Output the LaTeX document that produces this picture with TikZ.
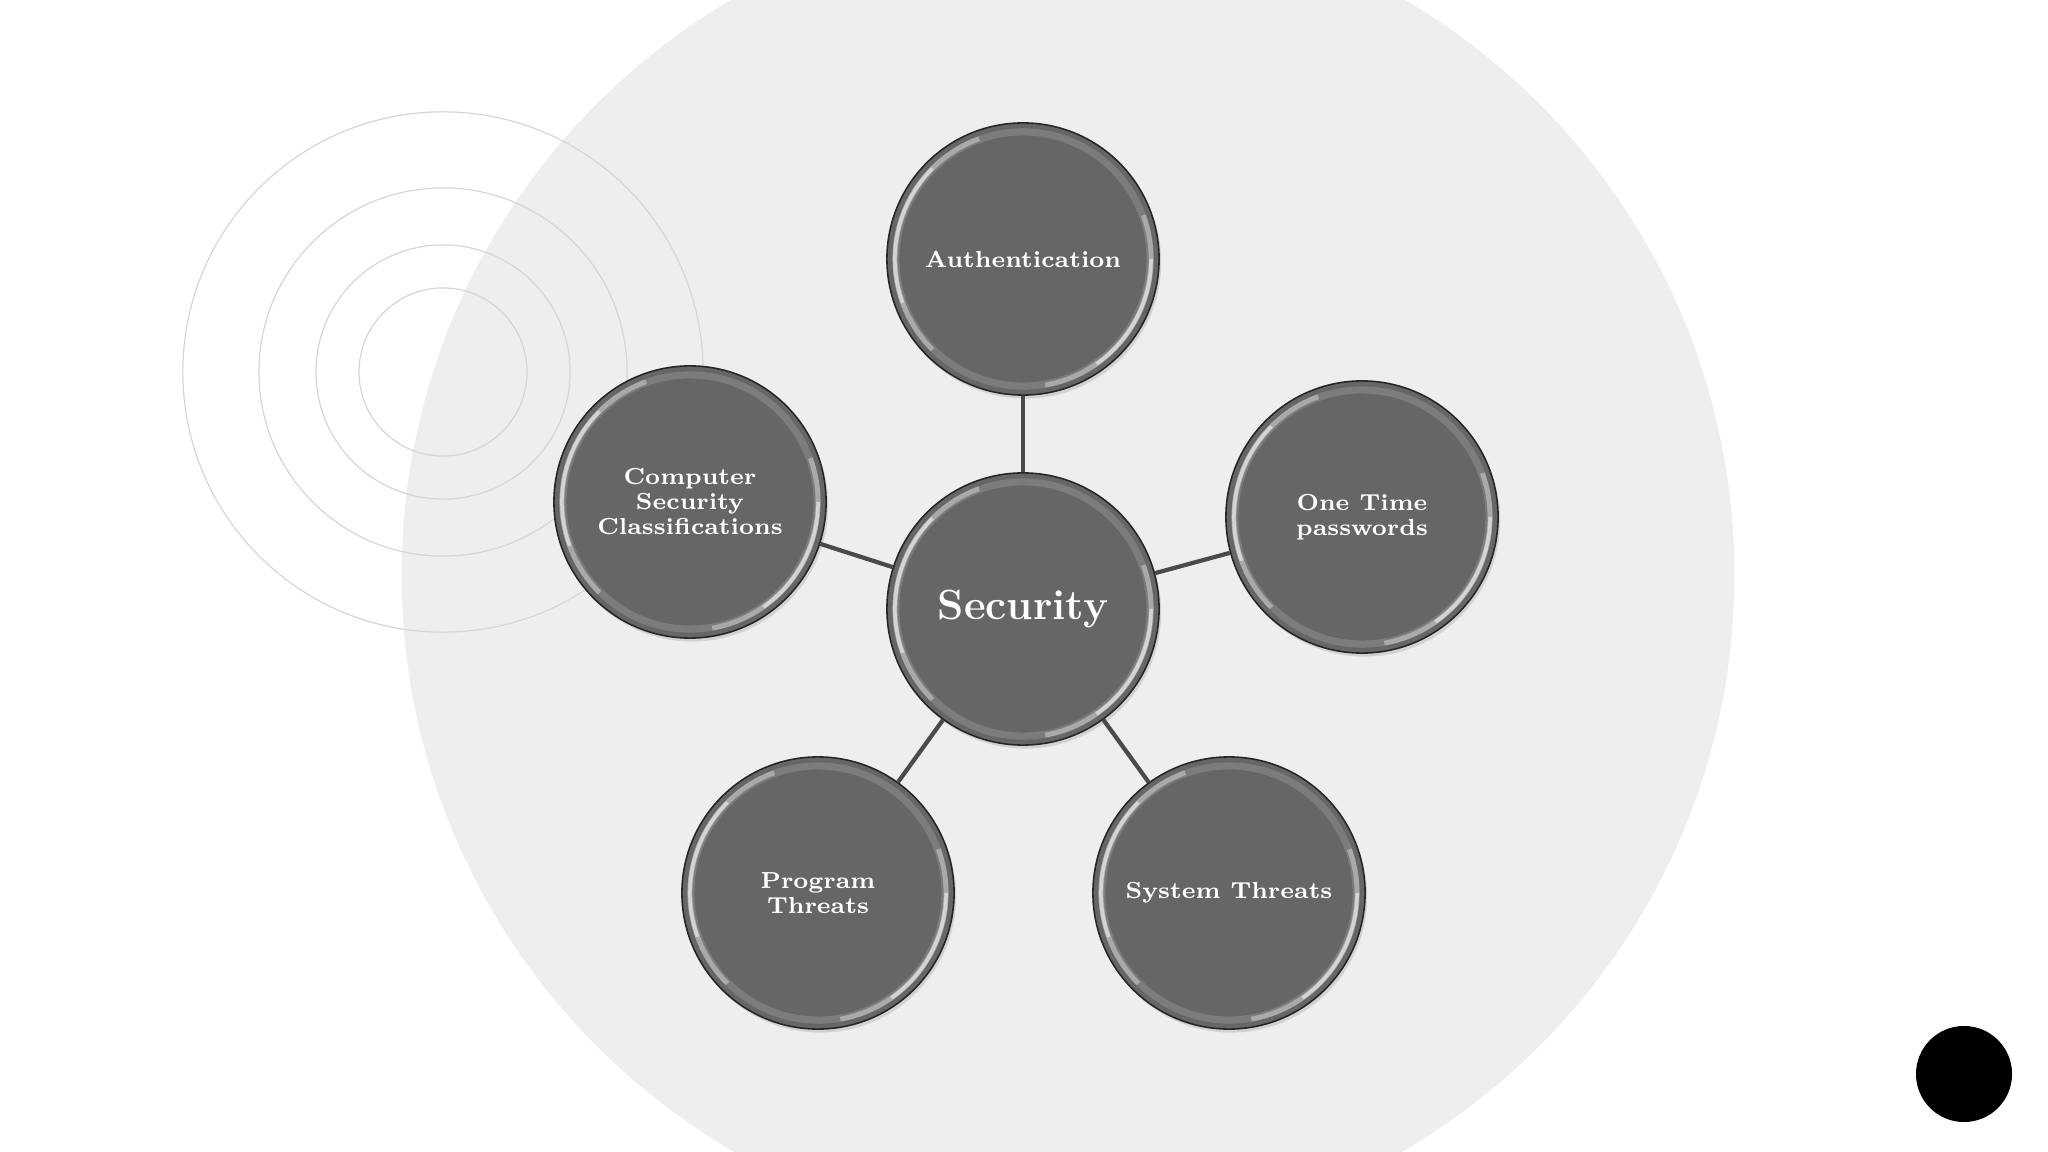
\documentclass[tikz,border=0pt]{standalone}
\usetikzlibrary{shadows}
\definecolor{backgray}{HTML}{EEEEEE}
\definecolor{ringgray}{HTML}{D6D6D6}
\definecolor{ballgray}{HTML}{666666}
\definecolor{linkgray}{HTML}{4A4A4A}
\begin{document}
\begin{tikzpicture}[x=0.01cm, y=-0.01cm,
  topic/.style={circle, draw=black!85, line width=0.45pt, fill=ballgray,
    minimum size=2.72cm, inner sep=0pt, align=center, text=white,
    font=\bfseries\fontsize{6.6}{7.1}\selectfont,
    drop shadow={shadow xshift=0.6pt, shadow yshift=-1pt, opacity=0.25},
    path picture={
      \draw[white, opacity=0.15, line width=2pt] (path picture bounding box.center) circle[radius=1.27cm];
      \draw[white, opacity=0.35, line width=1.4pt] (path picture bounding box.center) ++(110:1.28cm) arc[start angle=110, end angle=225, radius=1.28cm];
      \draw[white, opacity=0.5, line width=1pt] (path picture bounding box.center) ++(135:1.28cm) arc[start angle=135, end angle=200, radius=1.28cm];
      \draw[white, opacity=0.35, line width=1.4pt] (path picture bounding box.center) ++(-80:1.28cm) arc[start angle=-80, end angle=20, radius=1.28cm];
      \draw[white, opacity=0.5, line width=1pt] (path picture bounding box.center) ++(-55:1.28cm) arc[start angle=-55, end angle=0, radius=1.28cm];
    }},
  link/.style={draw=linkgray, line width=1.2pt},
  ripple/.style={draw=ringgray, line width=0.35pt}]

\useasboundingbox (0,0) rectangle (2048,1152);
\clip (0,0) rectangle (2048,1152);

% background
\fill[backgray] (1068,575) circle[radius=6.66cm];
\foreach \r in {2.60,1.84,1.27,0.84}
  \draw[ripple] (443,372) circle[radius=\r cm];
\fill[black] (1964,1074) circle[radius=0.48cm];

% topics
\node[topic, font=\bfseries\fontsize{12}{14}\selectfont] (security) at (1023,609) {Security};
\node[topic] (auth) at (1023,259) {Authentication};
\node[topic] (otp) at (1362,517) {One Time\\passwords};
\node[topic] (system) at (1229,893) {System Threats};
\node[topic] (program) at (818,893) {Program\\Threats};
\node[topic] (classes) at (690,502) {Computer\\Security\\Classifications};

% links
\foreach \t in {auth,otp,system,program,classes}
  \draw[link] (security) -- (\t);
\end{tikzpicture}
\end{document}
